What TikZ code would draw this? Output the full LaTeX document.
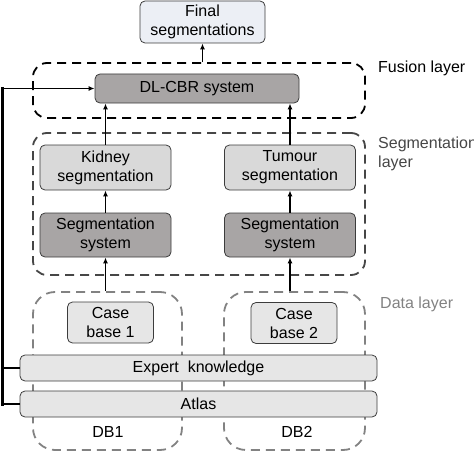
\documentclass[tikz,border=0pt]{standalone}
\usepackage{fontspec}
\setmainfont{Liberation Sans}
\usepackage{tikz}
\usetikzlibrary{positioning, calc, arrows.meta}
\definecolor{boxline}{RGB}{60, 60, 60}
\definecolor{outfill}{RGB}{236, 239, 245}
\definecolor{darkfill}{RGB}{168, 165, 165}
\definecolor{midfill}{RGB}{217, 217, 217}
\definecolor{lightfill}{RGB}{230, 230, 230}
\definecolor{laygray}{RGB}{70, 70, 70}
\definecolor{datagray}{RGB}{130, 130, 130}

\begin{document}
\begin{tikzpicture}[
      x=1pt, y=-1pt,
      font=\fontsize{16}{19}\selectfont,
      block/.style={draw=boxline, rounded corners=5pt, align=center, inner sep=1pt, line width=0.8pt},
      outbox/.style={block, fill=outfill, minimum width=125pt, minimum height=42pt},
      fusebox/.style={block, fill=darkfill, minimum width=204pt, minimum height=29pt},
      resbox/.style={block, fill=midfill, minimum width=131pt, minimum height=45pt},
      sysbox/.style={block, fill=darkfill, minimum width=131pt, minimum height=44pt},
      casebox/.style={block, fill=lightfill, minimum width=86pt, minimum height=41pt},
      wide/.style={block, fill=lightfill, minimum width=357pt, minimum height=26pt},
      layer/.style={draw, line width=1.8pt, dash pattern=on 9pt off 6pt, rounded corners=14pt, inner sep=0pt},
      dblayer/.style={layer, draw=datagray, rounded corners=22pt},
      laylabel/.style={anchor=west, align=left, inner sep=0pt},
      flow/.style={-{Latex[length=6pt, width=5pt]}, line width=1.6pt}
    ]
      \useasboundingbox (0,0) rectangle (474,452);

      % Layers
      \node[layer, minimum width=332pt, minimum height=55pt] (fusion) at (199,90.5) {};
      \node[layer, draw=laygray, minimum width=332pt, minimum height=142pt] (seglayer) at (199,204) {};
      \node[dblayer, minimum width=149pt, minimum height=158pt] (db1) at (107.5,371) {};
      \node[dblayer, minimum width=141pt, minimum height=158pt] (db2) at (294.5,371) {};

      % Nodes
      \node[outbox] (final) at (202.5,22) {Final\\segmentations};
      \node[fusebox] (dlcbr) at (197,88.5) {DL-CBR system};
      \node[resbox] (kidney) at (105.5,167.5) {Kidney\\segmentation};
      \node[resbox] (tumour) at (290,167.5) {Tumour\\segmentation};
      \node[sysbox] (sys1) at (105.5,235) {Segmentation\\system};
      \node[sysbox] (sys2) at (290,235) {Segmentation\\system};
      \node[casebox] (case1) at (110.5,322.5) {Case\\base 1};
      \node[casebox] (case2) at (294,323) {Case\\base 2};
      \node[wide] (expert) at (198.5,368) {Expert\ \ knowledge};
      \node[wide] (atlas) at (198.5,404) {Atlas};
      \node (dbone) at (108,432) {DB1};
      \node (dbtwo) at (297,432) {DB2};

      % Labels
      \node[laylabel] (fuselab) at (378,68) {Fusion layer};
      \node[laylabel, text=laygray] (seglab) at (378,154) {Segmentation\\layer};
      \node[laylabel, text=datagray] (datalab) at (380,304) {Data layer};

      % Edges
      \draw[flow] (fusion.north -| final.south) -- (final.south);
      \draw[flow] (kidney.north) -- (kidney.north |- dlcbr.south);
      \draw[flow] (tumour.north) -- (tumour.north |- dlcbr.south);
      \draw[flow] (sys1.north) -- (kidney.south);
      \draw[flow] (sys2.north) -- (tumour.south);
      \draw[flow] (db1.north -| sys1.south) -- (sys1.south);
      \draw[flow] (db2.north -| sys2.south) -- (sys2.south);

      % Feedback
      \coordinate (fbtop) at (2.5,88.5);
      \coordinate (fbbot) at (2.5,404);
      \draw[line width=3pt] ($(fbtop)+(0,-1.5)$) -- ($(fbbot)+(0,1.5)$);
      \draw[flow] (fbtop) -- (dlcbr.west);
      \draw[line width=1.6pt] (expert.west) -- (expert.west -| fbtop);
      \draw[line width=1.6pt] (atlas.west) -- (atlas.west -| fbtop);
    \end{tikzpicture}
\end{document}
